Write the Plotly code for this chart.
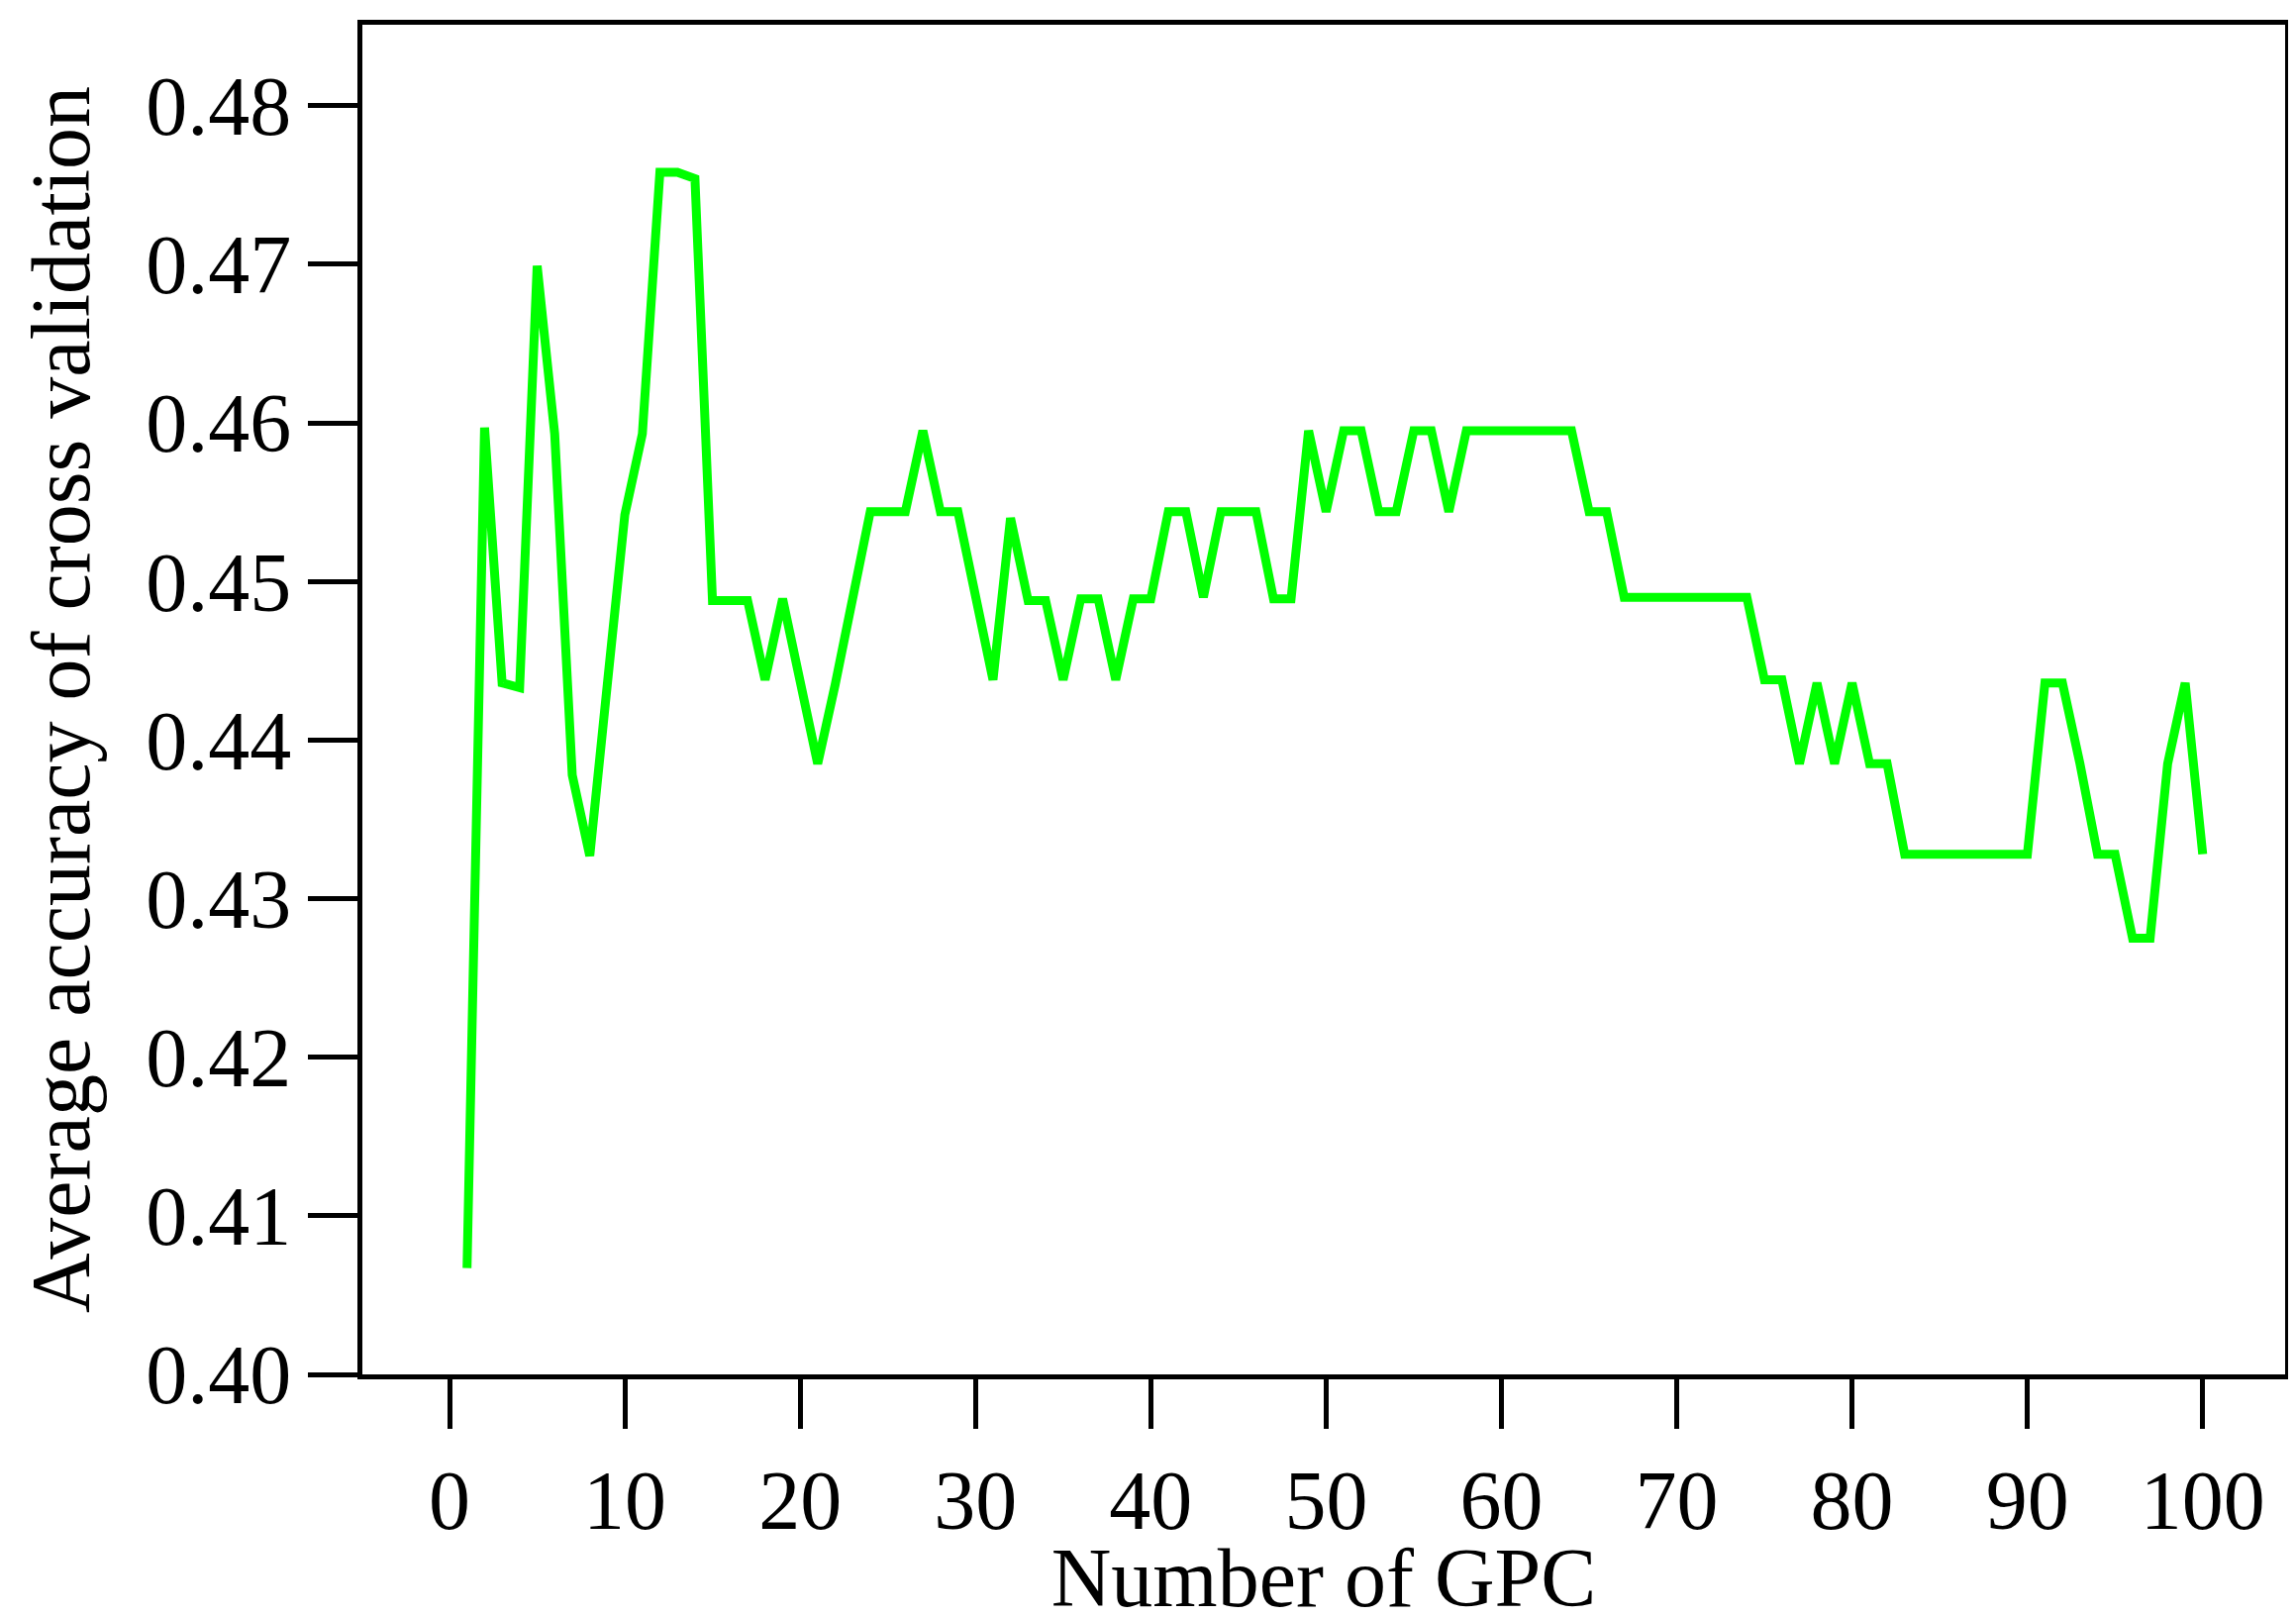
import plotly.graph_objects as go

n_gpc = list(range(1, 101))
accuracy = [
    0.4067, 0.4597, 0.4436, 0.4433, 0.4699, 0.4593, 0.4378, 0.4327, 0.4435, 0.4542,
    0.4593, 0.4758, 0.4758, 0.4754, 0.4488, 0.4488, 0.4488, 0.4438, 0.4489, 0.4437,
    0.4385, 0.4435, 0.4488, 0.4544, 0.4544, 0.4544, 0.4595, 0.4544, 0.4544, 0.4490,
    0.4438, 0.4540, 0.4488, 0.4488, 0.4438, 0.4489, 0.4489, 0.4438, 0.4489, 0.4489,
    0.4544, 0.4544, 0.4490, 0.4544, 0.4544, 0.4544, 0.4489, 0.4489, 0.4595, 0.4544,
    0.4595, 0.4595, 0.4544, 0.4544, 0.4595, 0.4595, 0.4544, 0.4595, 0.4595, 0.4595,
    0.4595, 0.4595, 0.4595, 0.4595, 0.4544, 0.4544, 0.4490, 0.4490, 0.4490, 0.4490,
    0.4490, 0.4490, 0.4490, 0.4490, 0.4438, 0.4438, 0.4385, 0.4436, 0.4385, 0.4436,
    0.4385, 0.4385, 0.4328, 0.4328, 0.4328, 0.4328, 0.4328, 0.4328, 0.4328, 0.4328,
    0.4436, 0.4436, 0.4385, 0.4328, 0.4328, 0.4275, 0.4275, 0.4385, 0.4436, 0.4328,
]
x_ticks = list(range(0, 101, 10))
y_ticks = [0.40, 0.41, 0.42, 0.43, 0.44, 0.45, 0.46, 0.47, 0.48]

FONT = "Liberation Serif, Times New Roman, serif"

fig = go.Figure(go.Scatter(x=n_gpc, y=accuracy, mode="lines",
                           line=dict(color="#00ff00", width=9)))

axis_style = dict(showline=True, linecolor="black", linewidth=5, mirror=True,
                  ticks="outside", ticklen=50, tickwidth=5, tickcolor="black",
                  showgrid=False, zeroline=False,
                  tickfont=dict(size=84, color="black", family=FONT),
                  title_font=dict(size=84, color="black", family=FONT))

fig.update_xaxes(range=[-4.97, 104.7], tickvals=x_ticks,
                 title_text="Number of GPC", title_standoff=0, **axis_style)
fig.update_yaxes(range=[0.40, 0.4851], tickvals=y_ticks, tickformat=".2f",
                 title_text="Average accuracy of cross validation",
                 title_standoff=30, **axis_style)
fig.update_layout(width=2319, height=1632, plot_bgcolor="white", paper_bgcolor="white",
                  margin=dict(l=358, r=19, t=15, b=252), showlegend=False)

fig.write_html("out.html")
